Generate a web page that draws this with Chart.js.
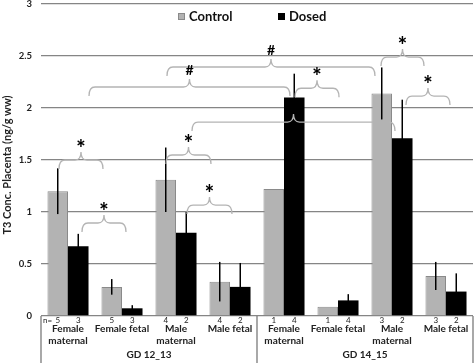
<!DOCTYPE html>
<html>
<head>
<meta charset="utf-8">
<script src="https://cdn.jsdelivr.net/npm/chart.js@4"></script>
<style>
  html, body { margin: 0; padding: 0; background: #fff; }
  #wrap { width: 474px; height: 363px; }
</style>
</head>
<body>
<div id="wrap"><canvas id="t3Chart" width="474" height="363"></canvas></div>
<script>
// 데이터
const categories = ['Female maternal', 'Female fetal', 'Male maternal', 'Male fetal',
                    'Female maternal', 'Female fetal', 'Male maternal', 'Male fetal'];
const groupLabels = ['GD 12_13', 'GD 14_15'];
const controlMeans = [1.20, 0.28, 1.31, 0.33, 1.22, 0.09, 2.14, 0.385];
const controlErr   = [0.22, 0.075, 0.31, 0.19, 0, 0, 0.25, 0.135];
const dosedMeans   = [0.67, 0.074, 0.80, 0.28, 2.10, 0.15, 1.71, 0.235];
const dosedErr     = [0.12, 0.03, 0.20, 0.23, 0.23, 0.06, 0.37, 0.175];
const controlN = [5, 5, 4, 4, 1, 1, 3, 3];
const dosedN   = [3, 3, 2, 2, 4, 4, 2, 2];
const yTicks = [0, 0.5, 1, 1.5, 2, 2.5, 3];

// 유의성 괄호: [시작 위치, 끝 위치 (카테고리 단위), y 값, 기호]
const braces = [
    [1.833, 5.685, 2.394, '#'],
    [0.389, 4.111, 2.202, '#'],
    [2.296, 6.056, 1.865, '#'],
    [4.204, 5.019, 2.190, '*'],
    [5.796, 6.593, 2.490, '*'],
    [6.259, 7.074, 2.115, '*'],
    [-0.167, 0.648, 1.500, '*'],
    [0.259, 1.074, 0.894, '*'],
    [1.815, 2.648, 1.548, '*'],
    [2.204, 3.037, 1.067, '*']
];

const FONT = 'Lato, "Open Sans", sans-serif';
const colors = {
    control: { bg: '#b3b3b3', border: '#8a8a8a' },
    dosed: { bg: '#000000', border: '#000000' },
    grid: '#858585',
    brace: '#b4b4b4'
};

function catPx(xs, pos) {
    const p0 = xs.getPixelForValue(0);
    const p1 = xs.getPixelForValue(1);
    return p0 + pos * (p1 - p0);
}

const overlayPlugin = {
    id: 'overlay',
    afterDatasetsDraw(chart) {
        const ctx = chart.ctx;
        const xs = chart.scales.x;
        const ys = chart.scales.y;
        const area = chart.chartArea;

        // 오차 막대
        ctx.save();
        ctx.strokeStyle = '#000';
        ctx.lineWidth = 1.5;
        [[controlMeans, controlErr], [dosedMeans, dosedErr]].forEach(([means, errs], d) => {
            chart.getDatasetMeta(d).data.forEach((bar, i) => {
                if (!errs[i]) return;
                ctx.beginPath();
                ctx.moveTo(bar.x, ys.getPixelForValue(Math.max(0, means[i] - errs[i])));
                ctx.lineTo(bar.x, ys.getPixelForValue(means[i] + errs[i]));
                ctx.stroke();
            });
        });
        ctx.restore();

        // 괄호
        braces.forEach(([a, b, v, sym]) => {
            const x1 = catPx(xs, a), x2 = catPx(xs, b);
            const y = ys.getPixelForValue(v);
            const mid = (x1 + x2) / 2;
            const r = 6, t = 8, curl = 9;
            ctx.save();
            ctx.strokeStyle = colors.brace;
            ctx.lineWidth = 1.3;
            ctx.beginPath();
            ctx.moveTo(x1, y + curl);
            ctx.quadraticCurveTo(x1, y, x1 + r, y);
            ctx.lineTo(mid - r, y);
            ctx.quadraticCurveTo(mid, y, mid, y - t);
            ctx.quadraticCurveTo(mid, y, mid + r, y);
            ctx.lineTo(x2 - r, y);
            ctx.quadraticCurveTo(x2, y, x2, y + curl);
            ctx.stroke();
            ctx.fillStyle = '#000';
            ctx.textAlign = 'center';
            ctx.textBaseline = 'middle';
            if (sym === '*') {
                ctx.font = `900 22px ${FONT}`;
                ctx.fillText(sym, mid, y - t - 3);
            } else {
                ctx.font = `bold 14px ${FONT}`;
                ctx.fillText(sym, mid, y - t - 9);
            }
            ctx.restore();
        });

        // x축 라벨 영역
        ctx.save();
        const H = chart.height;
        ctx.strokeStyle = '#7a7a7a';
        ctx.lineWidth = 1.3;
        [area.left, catPx(xs, 3.5), area.right].forEach(x => {
            ctx.beginPath();
            ctx.moveTo(x, area.bottom);
            ctx.lineTo(x, H);
            ctx.stroke();
        });
        ctx.fillStyle = '#222';
        ctx.textBaseline = 'middle';
        ctx.font = `8px ${FONT}`;
        ctx.textAlign = 'left';
        ctx.fillText('n=', area.left + 2, area.bottom + 4);
        ctx.textAlign = 'center';
        [controlN, dosedN].forEach((ns, d) => {
            chart.getDatasetMeta(d).data.forEach((bar, i) => {
                ctx.fillText(String(ns[i]), bar.x, area.bottom + 4);
            });
        });
        ctx.font = `bold 10px ${FONT}`;
        categories.forEach((c, i) => {
            const x = catPx(xs, i);
            const words = c.split(' ');
            if (words[1] === 'maternal') {
                ctx.fillText(words[0], x, area.bottom + 12.5);
                ctx.fillText(words[1], x, area.bottom + 24.5);
            } else {
                ctx.fillText(c, x, area.bottom + 12.5);
            }
        });
        groupLabels.forEach((g, k) => {
            ctx.fillText(g, catPx(xs, 1.5 + 4 * k), area.bottom + 39);
        });
        ctx.restore();

        // y축 제목
        ctx.save();
        ctx.translate(7, (area.top + area.bottom) / 2 + 5);
        ctx.rotate(-Math.PI / 2);
        ctx.font = `bold 11px ${FONT}`;
        ctx.fillStyle = '#222';
        ctx.textAlign = 'center';
        ctx.textBaseline = 'middle';
        ctx.fillText('T3 Conc. Placenta (ng/g ww)', 0, 0);
        ctx.restore();

        // 범례
        ctx.save();
        ctx.font = `bold 13px ${FONT}`;
        ctx.textBaseline = 'middle';
        ctx.textAlign = 'left';
        chart.data.datasets.forEach((ds, d) => {
            const x = d === 0 ? 178 : 278;
            ctx.fillStyle = ds.backgroundColor;
            ctx.strokeStyle = ds.borderColor;
            ctx.lineWidth = 1;
            ctx.fillRect(x, 13, 7, 7);
            ctx.strokeRect(x + 0.5, 13.5, 6, 6);
            ctx.fillStyle = '#111';
            ctx.fillText(ds.label, x + 11, 17);
        });
        ctx.restore();
    }
};

const ctx = document.getElementById('t3Chart').getContext('2d');
new Chart(ctx, {
    type: 'bar',
    data: {
        labels: categories,
        datasets: [
            { label: 'Control', data: controlMeans, backgroundColor: colors.control.bg, borderColor: colors.control.border, borderWidth: 1 },
            { label: 'Dosed', data: dosedMeans, backgroundColor: colors.dosed.bg, borderColor: colors.dosed.border, borderWidth: 0 }
        ]
    },
    options: {
        responsive: false,
        animation: false,
        layout: { padding: { top: 4, right: 1, bottom: 47, left: 0 } },
        datasets: { bar: { barPercentage: 1, categoryPercentage: 0.76 } },
        plugins: { legend: { display: false }, tooltip: { enabled: false } },
        scales: {
            x: { display: false },
            y: {
                min: 0, max: 3,
                afterFit: scale => { scale.width = 41; scale.paddingTop = 0; scale.paddingBottom = 0; },
                afterBuildTicks: scale => { scale.ticks = yTicks.map(v => ({ value: v })); },
                border: { display: false },
                grid: { color: colors.grid, lineWidth: 1.3, drawTicks: false },
                ticks: {
                    padding: 9, color: '#222',
                    font: { family: FONT, size: 9.5, weight: 'bold' },
                    callback: v => String(v)
                }
            }
        }
    },
    plugins: [overlayPlugin]
});
</script>
</body>
</html>
